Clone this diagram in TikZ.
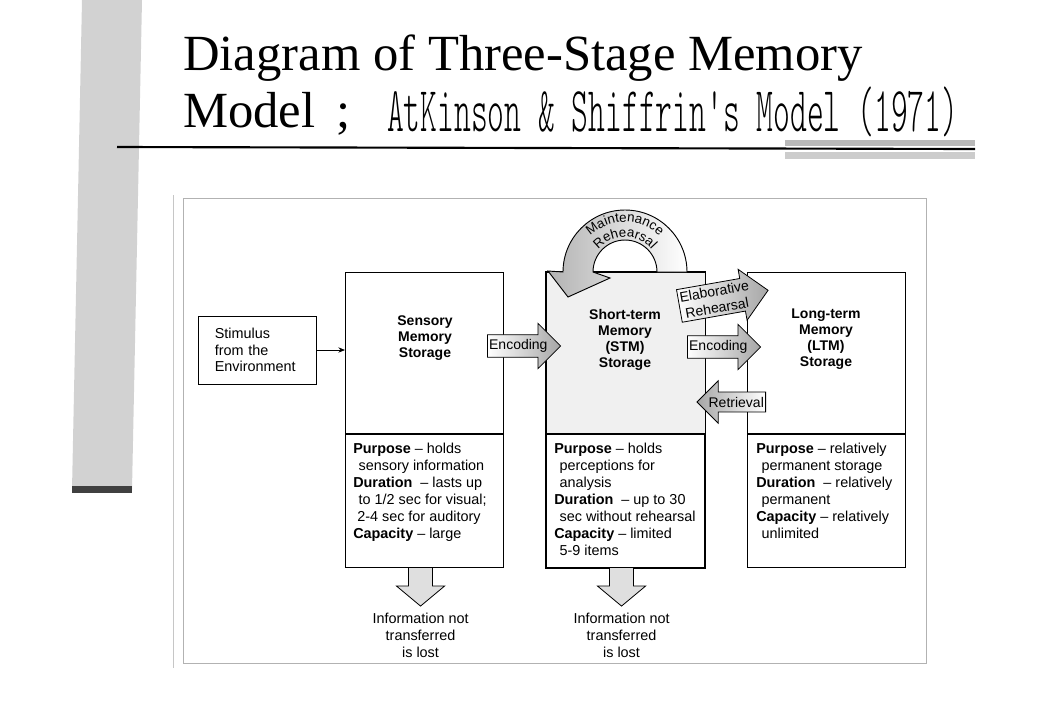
\documentclass[tikz,border=0pt]{standalone}
\usepackage{fontspec}
\setmainfont{Liberation Sans}
\newfontfamily\titlefont{Liberation Serif}
\newfontfamily\handfont{lmmonolt10-regular.otf}
\usetikzlibrary{shapes.arrows,decorations.text,calc,arrows.meta}

\begin{document}
\begin{tikzpicture}[x=0.75pt,y=-0.75pt,
  membox/.style={draw,line width=0.8pt,minimum width=118.5pt,minimum height=221.25pt,anchor=north west,inner sep=0pt},
  boxtitle/.style={font=\fontsize{10.5}{12}\selectfont\bfseries,align=center},
  detail/.style={font=\fontsize{10.8}{12.75}\selectfont,align=left,anchor=north west,inner sep=0pt},
  blockarrow/.style={single arrow,draw,line width=0.6pt,inner xsep=1pt,inner ysep=3.3pt,single arrow head extend=8.5pt,font=\fontsize{10.5}{11}\selectfont,left color=white,middle color=white,right color=gray!70},
  lostarrow/.style={draw,line width=0.6pt,fill=gray!25},
  losttext/.style={font=\fontsize{10.8}{12.75}\selectfont,align=center}]

\useasboundingbox (0,0) rectangle (1057,708);
% page
\fill[gray!35] (82,0) -- (142,0) -- (132,490) -- (72,490) -- cycle;
\fill[black!75] (72,486) rectangle (132,493);
\draw[line width=1.6pt] (117,147) -- (975,149);
\fill[gray!55] (785,140) rectangle (975,146);
\fill[gray!40] (785,152) rectangle (975,159);

% title
\node[anchor=base west,inner sep=0pt,font=\titlefont\fontsize{38}{38}\selectfont] (title) at (183,70) {Diagram of Three-Stage Memory};
\node[anchor=base west,inner sep=0pt,font=\titlefont\fontsize{38}{38}\selectfont] (model) at (183,127) {Model\hspace{16pt};};
\node[anchor=base west,inner sep=0pt,xscale=0.5,font=\handfont\fontsize{48}{48}\selectfont] (hand) at (387,131) {AtKinson \& Shiffrin's Model (1971)};

% frame
\draw[gray!60,line width=0.5pt] (183,198) rectangle (926,663);
\draw[gray!45,line width=0.5pt] (173,195) -- (173,668);

% boxes
\coordinate (div) at (0,434);
\node[membox] (sens) at (345,272) {};
\node[membox] (stm) at (546,272) {};
\node[membox] (ltm) at (747,272) {};
\fill[gray!12] ([shift={(0.4pt,-0.4pt)}]stm.north west) rectangle ([xshift=-0.4pt]stm.east |- div);
\draw[line width=0.8pt] (stm.north west) rectangle (stm.south east);
\foreach \b in {sens,stm,ltm}{\draw[line width=0.8pt] (\b.west |- div) -- (\b.east |- div);}

\node[boxtitle] (sensT) at (425,338) {Sensory\\Memory\\Storage};
\node[boxtitle] (stmT) at (625,339.5) {Short-term\\Memory\\(STM)\\Storage};
\node[boxtitle] (ltmT) at (826,339.5) {Long-term\\Memory\\(LTM)\\Storage};

% stimulus
\node[draw,line width=0.6pt,minimum width=89pt,minimum height=51pt,align=left,text width=64pt,font=\fontsize{10.8}{12.4}\selectfont] (stim) at (257.5,350) {Stimulus\\from the\\Environment};
\draw[line width=0.6pt,-{Stealth[length=5pt,width=4pt]}] (stim.east) -- (sens.west |- stim.east);

% block arrows
\node[blockarrow,anchor=tail] (enc1) at (487,346) {Encoding};
\node[blockarrow,anchor=tail] (enc2) at (687,347) {Encoding};
\node[blockarrow,anchor=tail,shape border rotate=180,left color=gray!70,middle color=white,right color=white] (retr) at (766,402) {Retrieval};
\node[blockarrow,anchor=tail,rotate=10,align=center,inner ysep=2pt,single arrow head extend=7pt,font=\fontsize{10.5}{12.5}\selectfont] (elab) at (679,306) {Elaborative\\Rehearsal};

% maintenance rehearsal loop
\coordinate (mc) at (625,272);
\draw[line width=0.7pt,left color=gray!60,right color=white] (657,272) -- (687,272) arc[start angle=360,end angle=180,radius=62] -- (548,271) -- (568,297) -- (610,278) -- (593,272) arc[start angle=180,end angle=360,radius=32] -- cycle;
\path[decorate,decoration={text along path,text align=center,text={|\fontsize{10}{10}\selectfont|Maintenance}}] (mc) ++(180:50) arc[start angle=180,end angle=360,radius=50];
\path[decorate,decoration={text along path,text align=center,text={|\fontsize{10}{10}\selectfont|Rehearsal}}] (mc) ++(180:35) arc[start angle=180,end angle=360,radius=35];

% details
\node[detail] (sensD) at (353,443) {\textbf{Purpose} -- holds\\
\hspace*{4pt}sensory information\\
\textbf{Duration} \ -- lasts up\\
\hspace*{4pt}to 1/2 sec for visual;\\
\hspace*{3pt}2-4 sec for auditory\\
\textbf{Capacity} -- large};
\node[detail] (stmD) at (554,443) {\textbf{Purpose} -- holds\\
\hspace*{4pt}perceptions for\\
\hspace*{4pt}analysis\\
\textbf{Duration} \ -- up to 30\\
\hspace*{4pt}sec without rehearsal\\
\textbf{Capacity} -- limited\\
\hspace*{4pt}5-9 items};
\node[detail] (ltmD) at (756,443) {\textbf{Purpose} -- relatively\\
\hspace*{4pt}permanent storage\\
\textbf{Duration} \ -- relatively\\
\hspace*{4pt}permanent\\
\textbf{Capacity} -- relatively\\
\hspace*{4pt}unlimited};

% information lost
\foreach \b/\n in {sens/1,stm/2}{
  \draw[lostarrow] ($(\b.south)+(-16,0)$) -- ++(0,18) -- ++(-12,0) -- ++(24,20) -- ++(24,-20) -- ++(-12,0) -- ++(0,-18);
  \node[losttext] (lost\n) at ($(\b.south)+(-4,67)$) {Information not\\transferred\\is lost};
}
\end{tikzpicture}
\end{document}
